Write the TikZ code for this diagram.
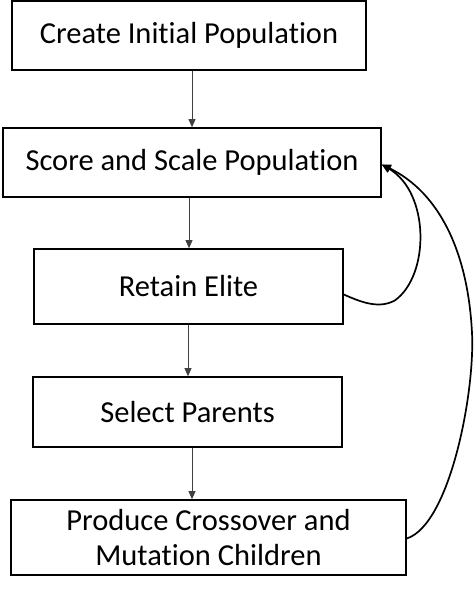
\documentclass[tikz,border=0pt]{standalone}
\usepackage{fontspec}
\setmainfont{Carlito}[Ligatures={NoCommon}]
\usetikzlibrary{arrows.meta}
\begin{document}
\begin{tikzpicture}[x=1pt,y=1pt,
  box/.style={draw=black,line width=1.6pt,rectangle,inner sep=0pt,align=center,font=\fontsize{30.5}{35}\selectfont},
  arr/.style={draw=black!75,line width=0.8pt,-{Triangle[length=8pt,width=7pt]}},
  loop/.style={draw=black,line width=1.7pt,-{Triangle[length=9pt,width=8pt]}}]
\useasboundingbox (0,0) rectangle (474,593);
\node[box,minimum width=354pt,minimum height=69pt] (b1) at (189,557.5) {Create Initial Population};
\node[box,minimum width=378pt,minimum height=69pt] (b2) at (192,430.5) {Score and Scale Population};
\node[box,minimum width=309pt,minimum height=75pt] (b3) at (188.5,306.5) {Retain Elite};
\node[box,minimum width=309pt,minimum height=70pt] (b4) at (187.5,181) {Select Parents};
\node[box,minimum width=395pt,minimum height=75pt] (b5) at (208.5,55.5) {Produce Crossover and\\Mutation Children};
\draw[arr] ([xshift=3pt]b1.south) -- ([xshift=3pt]b1.south |- b2.north);
\draw[arr] ([xshift=-3pt]b2.south) -- ([xshift=-3pt]b2.south |- b3.north);
\draw[arr] ([xshift=-0.5pt]b3.south) -- ([xshift=-0.5pt]b3.south |- b4.north);
\draw[arr] ([xshift=4.5pt]b4.south) -- ([xshift=4.5pt]b4.south |- b5.north);
\coordinate (t) at ([yshift=-2pt]b2.east);
\draw[loop] ([yshift=-8pt]b3.east) .. controls +(20,-9) and +(-15,-8) .. ++(51,-6) .. controls +(35,25) and (430,400) .. (t);
\draw[loop] ([yshift=-1pt]b5.east) .. controls +(43,14) and (475,200) .. (472,260) .. controls (468,340) and (440,400) .. (t);
\end{tikzpicture}
\end{document}
